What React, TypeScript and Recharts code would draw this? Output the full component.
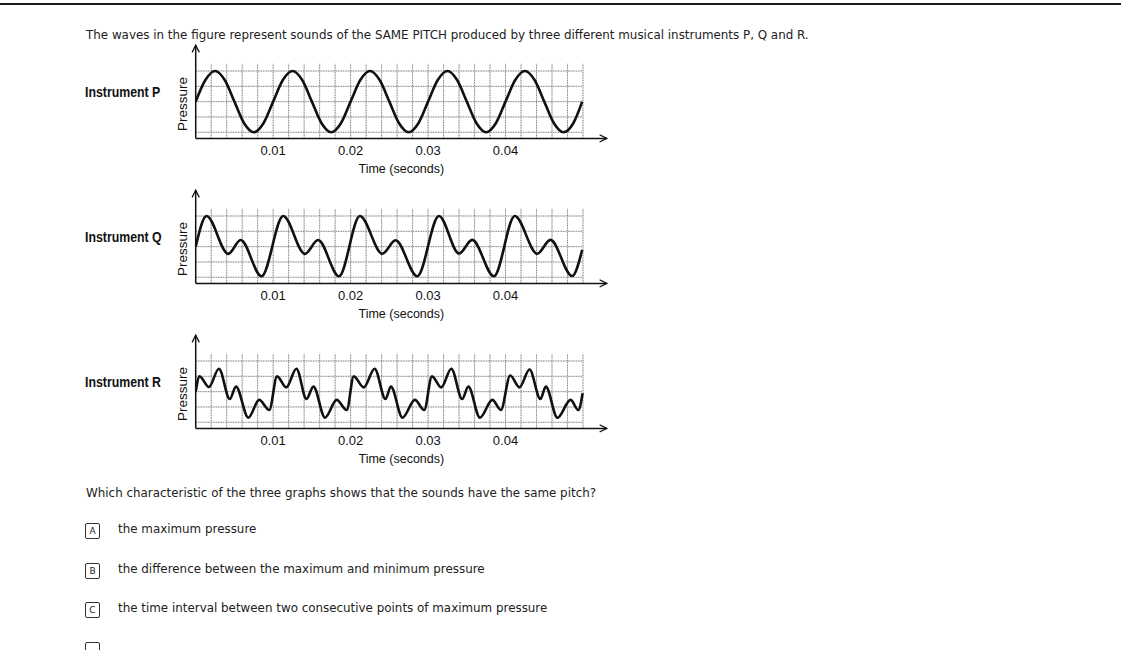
import React from 'react';
import { LineChart, Line, XAxis, YAxis, ReferenceLine } from 'recharts';

// time ticks and grid (seconds / pressure units)
const tickTimes = [0.01, 0.02, 0.03, 0.04];
const gridTimes = [
  0.002, 0.004, 0.006, 0.008, 0.01, 0.012, 0.014, 0.016, 0.018, 0.02, 0.022, 0.024, 0.026,
  0.028, 0.03, 0.032, 0.034, 0.036, 0.038, 0.04, 0.042, 0.044, 0.046, 0.048, 0.05,
];
const gridLevels = [-2, -1, 0, 1, 2];

// Instrument P: plain wave
const pTime = [
  0, 0.00125, 0.0025, 0.00375, 0.005, 0.00625, 0.0075, 0.00875,
  0.01, 0.01125, 0.0125, 0.01375, 0.015, 0.01625, 0.0175, 0.01875,
  0.02, 0.02125, 0.0225, 0.02375, 0.025, 0.02625, 0.0275, 0.02875,
  0.03, 0.03125, 0.0325, 0.03375, 0.035, 0.03625, 0.0375, 0.03875,
  0.04, 0.04125, 0.0425, 0.04375, 0.045, 0.04625, 0.0475, 0.04875, 0.0499,
];
const pPressure = [
  0, 1.41, 2, 1.41, 0, -1.41, -2, -1.41,
  0, 1.41, 2, 1.41, 0, -1.41, -2, -1.41,
  0, 1.41, 2, 1.41, 0, -1.41, -2, -1.41,
  0, 1.41, 2, 1.41, 0, -1.41, -2, -1.41,
  0, 1.41, 2, 1.41, 0, -1.41, -2, -1.41, 0,
];

// Instrument Q: peak, small dip, small bump, deep trough
const qTime = [
  0, 0.0014, 0.0042, 0.0058, 0.0085,
  0.0113, 0.0141, 0.0158, 0.0185,
  0.0212, 0.0241, 0.0258, 0.0286,
  0.0314, 0.034, 0.0357, 0.0385,
  0.0412, 0.0441, 0.0458, 0.0486, 0.0499,
];
const qPressure = [
  0, 2, -0.47, 0.43, -1.93,
  2, -0.47, 0.43, -1.93,
  2, -0.46, 0.42, -1.93,
  2, -0.45, 0.44, -1.93,
  2, -0.46, 0.44, -1.92, -0.2,
];

// Instrument R: more wiggles per cycle
const rTime = [
  0, 0.0005, 0.0017, 0.003, 0.0044, 0.0052, 0.0068, 0.0082, 0.0095,
  0.0105, 0.0117, 0.013, 0.0143, 0.0152, 0.0167, 0.0182, 0.0195,
  0.0204, 0.0217, 0.0231, 0.0245, 0.0252, 0.0267, 0.0283, 0.0295,
  0.0305, 0.0317, 0.033, 0.0344, 0.0352, 0.0367, 0.0383, 0.0394,
  0.0406, 0.0418, 0.0431, 0.0445, 0.0452, 0.0467, 0.0484, 0.0494, 0.04995,
];
const rPressure = [
  0, 1.0, 0.3, 1.5, -0.48, 0.33, -1.7, -0.54, -1.2,
  1.0, 0.28, 1.5, -0.48, 0.33, -1.7, -0.54, -1.2,
  1.0, 0.28, 1.5, -0.48, 0.33, -1.7, -0.54, -1.2,
  1.0, 0.28, 1.5, -0.48, 0.33, -1.7, -0.54, -1.2,
  1.05, 0.28, 1.45, -0.48, 0.33, -1.7, -0.54, -1.2, -0.1,
];

const instruments = [
  { id: 'p', name: 'Instrument P', time: pTime, pressure: pPressure },
  { id: 'q', name: 'Instrument Q', time: qTime, pressure: qPressure },
  { id: 'r', name: 'Instrument R', time: rTime, pressure: rPressure },
];

const options = [
  { letter: 'A', text: 'the maximum pressure' },
  { letter: 'B', text: 'the difference between the maximum and minimum pressure' },
  { letter: 'C', text: 'the time interval between two consecutive points of maximum pressure' },
];

const figFont = "'Liberation Sans', Arial, sans-serif";
const pageFont = "'DejaVu Sans', Verdana, sans-serif";
const ink = '#111';

function WaveChart({ id, name, time, pressure, top }: any) {
  const data = time.map((t: number, i: number) => ({ t, p: pressure[i] }));
  const arrow = `arrow-${id}`;
  return (
    <>
      <div
        style={{
          position: 'absolute', left: 85, top: top + 54, lineHeight: '16px', whiteSpace: 'nowrap',
          fontFamily: figFont, fontWeight: 'bold', fontSize: 14, color: ink,
          transform: 'scaleX(0.88)', transformOrigin: 'left center',
        }}
      >
        {name}
      </div>
      <div
        style={{
          position: 'absolute', left: 153, top: top + 66, width: 60, height: 16, lineHeight: '16px',
          textAlign: 'center', transform: 'rotate(-90deg)', fontFamily: figFont, fontSize: 13.5, color: ink,
        }}
      >
        Pressure
      </div>
      <div style={{ position: 'absolute', left: 140, top }}>
        <LineChart width={480} height={160} data={data} margin={{ top: 15, right: 13, bottom: 11.6, left: 45.7 }}>
          <defs>
            <marker
              id={arrow}
              viewBox="0 0 10 10"
              refX="9.2"
              refY="5"
              markerWidth="9"
              markerHeight="9"
              markerUnits="userSpaceOnUse"
              orient="auto-start-reverse"
            >
              <path d="M1,1 L9,5 L1,9" fill="none" stroke={ink} strokeWidth="1.4" />
            </marker>
          </defs>
          {gridTimes.map((g) => (
            <ReferenceLine key={`vb${g}`} segment={[{ x: g, y: -2.4 }, { x: g, y: 2.5 }]} stroke="#d6d6d6" strokeWidth={1} />
          ))}
          {gridLevels.map((g) => (
            <ReferenceLine key={`hb${g}`} segment={[{ x: 0, y: g }, { x: 0.05, y: g }]} stroke="#d6d6d6" strokeWidth={1} />
          ))}
          {gridTimes.map((g) => (
            <ReferenceLine key={`vd${g}`} segment={[{ x: g, y: -2.4 }, { x: g, y: 2.5 }]} stroke="#7a7a7a" strokeWidth={1} strokeDasharray="1 1.5" />
          ))}
          {gridLevels.map((g) => (
            <ReferenceLine key={`hd${g}`} segment={[{ x: 0, y: g }, { x: 0.05, y: g }]} stroke="#7a7a7a" strokeWidth={1} strokeDasharray="1 1.5" />
          ))}
          <XAxis
            type="number"
            dataKey="t"
            domain={[0, 0.0531]}
            allowDataOverflow
            ticks={tickTimes}
            height={40}
            tickLine={false}
            tickSize={0}
            tickMargin={7}
            tick={{ fill: ink, fontSize: 13, fontFamily: figFont }}
            axisLine={{ stroke: ink, strokeWidth: 1.5, markerEnd: `url(#${arrow})` }}
            label={{ value: 'Time (seconds)', position: 'insideBottom', offset: 5.2, fill: ink, fontSize: 12.5, fontFamily: figFont }}
          />
          <YAxis
            type="number"
            domain={[-2.4, 3.7]}
            allowDataOverflow
            width={10}
            tick={false}
            tickLine={false}
            axisLine={{ stroke: ink, strokeWidth: 1.5, markerStart: `url(#${arrow})` }}
          />
          <Line
            type="monotone"
            dataKey="p"
            stroke={ink}
            strokeWidth={2.6}
            dot={false}
            activeDot={false}
            isAnimationActive={false}
          />
        </LineChart>
      </div>
    </>
  );
}

export default function App() {
  const textStyle: React.CSSProperties = {
    position: 'absolute', lineHeight: '14px', fontFamily: pageFont, fontSize: 11.9, color: '#222', whiteSpace: 'nowrap',
  };
  return (
    <div style={{ position: 'relative', width: 1121, height: 650, background: '#fff', overflow: 'hidden' }}>
      <style>{'body{margin:0;}'}</style>
      <div style={{ position: 'absolute', left: 0, top: 3, width: 1121, height: 2, background: '#1a1a1a' }} />
      <div style={{ ...textStyle, left: 86, top: 28 }}>
        The waves in the figure represent sounds of the SAME PITCH produced by three different musical instruments P, Q and R.
      </div>
      {instruments.map((ins, i) => (
        <WaveChart key={ins.id} {...ins} top={30 + i * 145} />
      ))}
      <div style={{ ...textStyle, left: 86, top: 486 }}>
        Which characteristic of the three graphs shows that the sounds have the same pitch?
      </div>
      {options.map((o, i) => (
        <React.Fragment key={o.letter}>
          <div
            style={{
              position: 'absolute', left: 85, top: 523 + i * 39.5, width: 13, height: 14, border: '1px solid #333',
              borderRadius: 2, fontFamily: pageFont, fontSize: 9, lineHeight: '14px', textAlign: 'center', color: '#222',
            }}
          >
            {o.letter}
          </div>
          <div style={{ ...textStyle, left: 118, top: 522 + i * 39.5 }}>{o.text}</div>
        </React.Fragment>
      ))}
      <div
        style={{
          position: 'absolute', left: 85, top: 642, width: 13, height: 14, border: '1px solid #333', borderRadius: 2,
        }}
      />
    </div>
  );
}
